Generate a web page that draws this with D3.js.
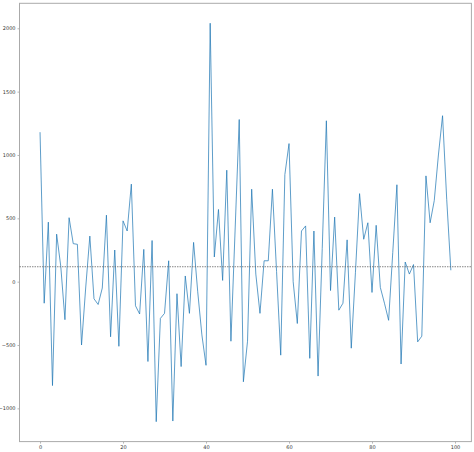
<!DOCTYPE html>
<html>
<head>
<meta charset="utf-8">
<script src="https://cdn.jsdelivr.net/npm/d3@7/dist/d3.min.js"></script>
<style>
  html, body { margin: 0; padding: 0; background: #fff; }
  svg { display: block; }
  .tick text { font-family: "DejaVu Sans", sans-serif; font-size: 5px; fill: #333; }
</style>
</head>
<body>
<div id="chart"></div>
<script>
const values = [
  1180, -170, 470, -820, 375, 120, -300, 505, 300, 295,
  -500, -50, 360, -135, -180, -50, 525, -435, 250, -510,
  480, 400, 770, -190, -255, 255, -630, 325, -1105, -290,
  -250, 165, -1100, -95, -670, 45, -250, 310, -80, -420,
  -660, 2040, 195, 570, 10, 880, -470, 400, 1280, -790,
  -470, 730, 60, -250, 165, 165, 730, 80, -580, 845,
  1090, 0, -330, 400, 440, -605, 400, -745, 260, 1270,
  -70, 510, -225, -170, 330, -525, 70, 695, 335, 465,
  -85, 445, -45, -170, -305, 230, 765, -650, 155, 60,
  135, -475, -430, 835, 465, 640, 1000, 1310, 650, 90
];
const xTicks = [0, 20, 40, 60, 80, 100];
const yTicks = [-1000, -500, 0, 500, 1000, 1500, 2000];

(function () {
  const W = 474, H = 452;
  const pLeft = 19.5, pRight = 471.4, pTop = 3.3, pBottom = 441.6;

  const svg = d3.select("#chart").append("svg").attr("width", W).attr("height", H);

  const n = values.length;
  const xPad = (n - 1) * 0.05;
  const x = d3.scaleLinear().domain([-xPad, n - 1 + xPad]).range([pLeft, pRight]);
  const [ymin, ymax] = d3.extent(values);
  const yPad = (ymax - ymin) * 0.05;
  const y = d3.scaleLinear().domain([ymin - yPad, ymax + yPad]).range([pBottom, pTop]);

  const fmt = d => (d < 0 ? "\u2212" + Math.abs(d) : String(d));

  const xAxis = svg.append("g").attr("transform", `translate(0,${pBottom})`)
    .call(d3.axisBottom(x).tickValues(xTicks).tickFormat(fmt).tickSize(2).tickPadding(2));
  const yAxis = svg.append("g").attr("transform", `translate(${pLeft},0)`)
    .call(d3.axisLeft(y).tickValues(yTicks).tickFormat(fmt).tickSize(2).tickPadding(2));
  [xAxis, yAxis].forEach(g => {
    g.select(".domain").remove();
    g.selectAll(".tick line").attr("stroke", "#888").attr("stroke-width", 0.6);
  });

  svg.append("rect")
    .attr("x", pLeft).attr("y", pTop)
    .attr("width", pRight - pLeft).attr("height", pBottom - pTop)
    .attr("fill", "none").attr("stroke", "#aaa").attr("stroke-width", 1);

  const line = d3.line().x((d, i) => x(i)).y(d => y(d));
  svg.append("path").datum(values)
    .attr("d", line)
    .attr("fill", "none")
    .attr("stroke", "#1f77b4")
    .attr("stroke-width", 0.85)
    .attr("stroke-opacity", 0.85)
    .attr("stroke-linejoin", "round");

  const m = d3.mean(values);
  svg.append("line")
    .attr("x1", pLeft).attr("x2", pRight)
    .attr("y1", y(m)).attr("y2", y(m))
    .attr("stroke", "#666").attr("stroke-width", 0.8)
    .attr("stroke-dasharray", "1.5,1");
})();
</script>
</body>
</html>
